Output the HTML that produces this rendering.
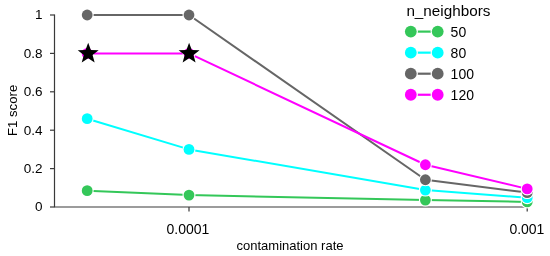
<!DOCTYPE html>
<html><head><meta charset="utf-8"><title>chart</title>
<style>html,body{margin:0;padding:0;background:#fff}body{width:550px;height:256px;overflow:hidden}</style></head>
<body>
<svg width="550" height="256" viewBox="0 0 550 256" style="display:block">
<rect width="550" height="256" fill="#fff"/>
<g stroke="#3a3a3a" stroke-width="1.2" fill="none" shape-rendering="auto">
<path d="M54.5,14.5V207.0H527.7"/>
<path d="M50,207.00H54.5"/>
<path d="M50,168.60H54.5"/>
<path d="M50,130.20H54.5"/>
<path d="M50,91.80H54.5"/>
<path d="M50,53.40H54.5"/>
<path d="M50,15.00H54.5"/>
<path d="M189.00,207.0V211.5"/>
<path d="M527.20,207.0V211.5"/>
</g>
<polyline points="87.19,190.68 189.00,195.10 425.39,200.09 527.20,201.89" fill="none" stroke="#34c759" stroke-width="2" stroke-linejoin="round"/>
<circle cx="87.19" cy="190.68" r="6.5" fill="#fff"/><circle cx="87.19" cy="190.68" r="5.4" fill="#34c759"/>
<circle cx="189.00" cy="195.10" r="6.5" fill="#fff"/><circle cx="189.00" cy="195.10" r="5.4" fill="#34c759"/>
<circle cx="425.39" cy="200.09" r="6.5" fill="#fff"/><circle cx="425.39" cy="200.09" r="5.4" fill="#34c759"/>
<circle cx="527.20" cy="201.89" r="6.5" fill="#fff"/><circle cx="527.20" cy="201.89" r="5.4" fill="#34c759"/>
<polyline points="87.19,118.68 189.00,149.40 425.39,190.10 527.20,197.71" fill="none" stroke="#00ffff" stroke-width="2" stroke-linejoin="round"/>
<circle cx="87.19" cy="118.68" r="6.5" fill="#fff"/><circle cx="87.19" cy="118.68" r="5.4" fill="#00ffff"/>
<circle cx="189.00" cy="149.40" r="6.5" fill="#fff"/><circle cx="189.00" cy="149.40" r="5.4" fill="#00ffff"/>
<circle cx="425.39" cy="190.10" r="6.5" fill="#fff"/><circle cx="425.39" cy="190.10" r="5.4" fill="#00ffff"/>
<circle cx="527.20" cy="197.71" r="6.5" fill="#fff"/><circle cx="527.20" cy="197.71" r="5.4" fill="#00ffff"/>
<polyline points="87.19,15.00 189.00,15.00 425.39,179.74 527.20,192.60" fill="none" stroke="#666666" stroke-width="2" stroke-linejoin="round"/>
<circle cx="87.19" cy="15.00" r="6.5" fill="#fff"/><circle cx="87.19" cy="15.00" r="5.4" fill="#666666"/>
<circle cx="189.00" cy="15.00" r="6.5" fill="#fff"/><circle cx="189.00" cy="15.00" r="5.4" fill="#666666"/>
<circle cx="425.39" cy="179.74" r="6.5" fill="#fff"/><circle cx="425.39" cy="179.74" r="5.4" fill="#666666"/>
<circle cx="527.20" cy="192.60" r="6.5" fill="#fff"/><circle cx="527.20" cy="192.60" r="5.4" fill="#666666"/>
<polyline points="87.19,53.40 189.00,53.40 425.39,164.76 527.20,188.89" fill="none" stroke="#ff00ff" stroke-width="2" stroke-linejoin="round"/>
<circle cx="87.19" cy="53.40" r="6.5" fill="#fff"/><circle cx="87.19" cy="53.40" r="5.4" fill="#ff00ff"/>
<circle cx="189.00" cy="53.40" r="6.5" fill="#fff"/><circle cx="189.00" cy="53.40" r="5.4" fill="#ff00ff"/>
<circle cx="425.39" cy="164.76" r="6.5" fill="#fff"/><circle cx="425.39" cy="164.76" r="5.4" fill="#ff00ff"/>
<circle cx="527.20" cy="188.89" r="6.5" fill="#fff"/><circle cx="527.20" cy="188.89" r="5.4" fill="#ff00ff"/>
<polygon points="88.19,42.70 90.90,49.98 98.65,50.30 92.57,55.12 94.66,62.60 88.19,58.30 81.73,62.60 83.82,55.12 77.73,50.30 85.49,49.98" fill="#000"/>
<polygon points="189.10,42.70 191.80,49.98 199.56,50.30 193.47,55.12 195.57,62.60 189.10,58.30 182.63,62.60 184.73,55.12 178.64,50.30 186.40,49.98" fill="#000"/>
<g font-family="'Liberation Sans', Arial, sans-serif" fill="#000">
<text x="42.6" y="211.40" font-size="13.5" text-anchor="end">0</text>
<text x="42.6" y="173.00" font-size="13.5" text-anchor="end">0.2</text>
<text x="42.6" y="134.60" font-size="13.5" text-anchor="end">0.4</text>
<text x="42.6" y="96.20" font-size="13.5" text-anchor="end">0.6</text>
<text x="42.6" y="57.80" font-size="13.5" text-anchor="end">0.8</text>
<text x="42.6" y="19.40" font-size="13.5" text-anchor="end">1</text>
<text x="188.00" y="233.5" font-size="14" text-anchor="middle">0.0001</text>
<text x="526.90" y="233.5" font-size="14" text-anchor="middle">0.001</text>
<text x="290" y="249.7" font-size="13" text-anchor="middle">contamination rate</text>
<text transform="translate(17.4,110.4) rotate(-90)" font-size="13.2" text-anchor="middle">F1 score</text>
<text x="406.4" y="15.6" font-size="15.25">n_neighbors</text>
<text x="450.6" y="36.60" font-size="14">50</text>
<text x="450.6" y="57.65" font-size="14">80</text>
<text x="450.6" y="78.70" font-size="14">100</text>
<text x="450.6" y="99.75" font-size="14">120</text>
</g>
<path d="M411.4,31.60H437.7" stroke="#34c759" stroke-width="2.2"/>
<circle cx="410.8" cy="31.60" r="7.1" fill="#fff"/><circle cx="410.8" cy="31.60" r="5.9" fill="#34c759"/>
<circle cx="437.7" cy="31.60" r="7.1" fill="#fff"/><circle cx="437.7" cy="31.60" r="5.9" fill="#34c759"/>
<path d="M411.4,52.65H437.7" stroke="#00ffff" stroke-width="2.2"/>
<circle cx="410.8" cy="52.65" r="7.1" fill="#fff"/><circle cx="410.8" cy="52.65" r="5.9" fill="#00ffff"/>
<circle cx="437.7" cy="52.65" r="7.1" fill="#fff"/><circle cx="437.7" cy="52.65" r="5.9" fill="#00ffff"/>
<path d="M411.4,73.70H437.7" stroke="#666666" stroke-width="2.2"/>
<circle cx="410.8" cy="73.70" r="7.1" fill="#fff"/><circle cx="410.8" cy="73.70" r="5.9" fill="#666666"/>
<circle cx="437.7" cy="73.70" r="7.1" fill="#fff"/><circle cx="437.7" cy="73.70" r="5.9" fill="#666666"/>
<path d="M411.4,94.75H437.7" stroke="#ff00ff" stroke-width="2.2"/>
<circle cx="410.8" cy="94.75" r="7.1" fill="#fff"/><circle cx="410.8" cy="94.75" r="5.9" fill="#ff00ff"/>
<circle cx="437.7" cy="94.75" r="7.1" fill="#fff"/><circle cx="437.7" cy="94.75" r="5.9" fill="#ff00ff"/>
</svg>
</body></html>
